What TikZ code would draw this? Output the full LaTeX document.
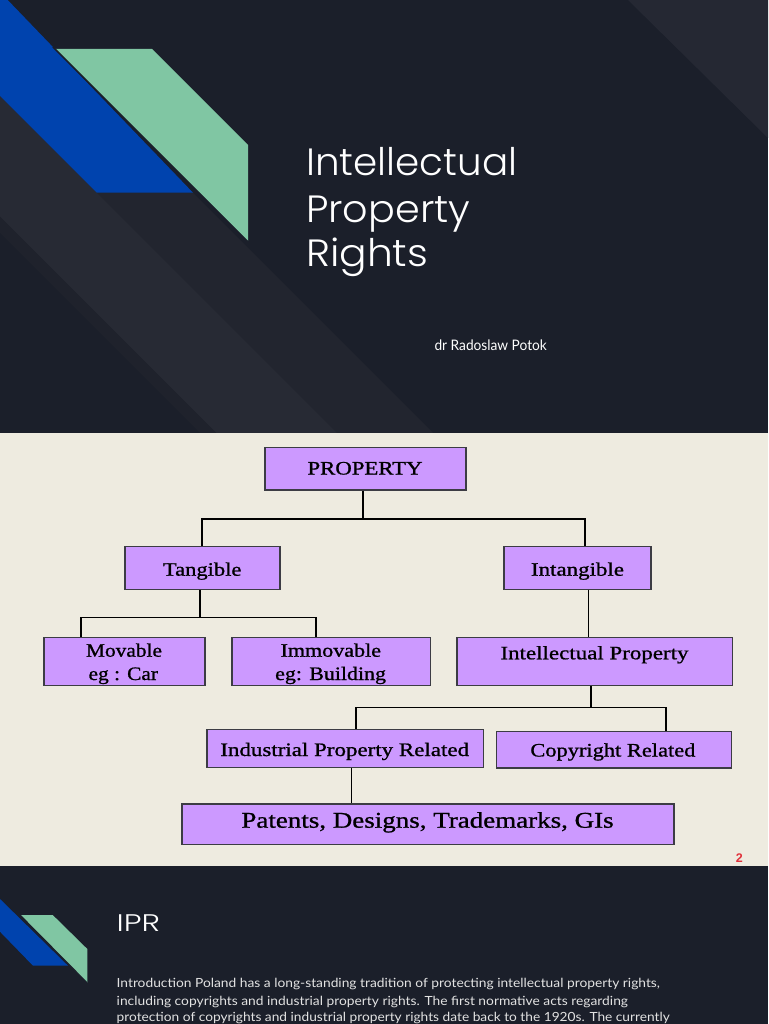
\documentclass[tikz,border=0pt]{standalone}
\usepackage{fontspec}
\usepackage{graphicx}
\setmainfont{Liberation Serif}
\newfontfamily\boxfont{Liberation Serif}[UprightFeatures={FakeBold=0.9}]
\IfFontExistsTF{Poppins Light}{\newfontfamily\titlefont{Poppins Light}}{\newfontfamily\titlefont{Poppins}}
\newfontfamily\latofont{Lato}
\newfontfamily\numfont{Liberation Sans}
\newcommand\fw[2]{\resizebox{#1}{\height}{#2}}
\definecolor{bgdark}{HTML}{1B1F2A}
\definecolor{bandA}{HTML}{22252F}
\definecolor{bandB}{HTML}{272A34}
\definecolor{bandC}{HTML}{1F222C}
\definecolor{bandT}{HTML}{252833}
\definecolor{slblue}{HTML}{0043AE}
\definecolor{slgreen}{HTML}{80C6A3}
\definecolor{midbg}{HTML}{EEEBE0}
\definecolor{boxfill}{HTML}{CC99FF}
\definecolor{boxline}{HTML}{3C3C44}
\definecolor{pagered}{HTML}{E0303A}
\definecolor{paratext}{HTML}{E2E2E2}
\begin{document}
\begin{tikzpicture}[x=1pt,y=-1pt,
  box/.style={draw=boxline, fill=boxfill, line width=1.3pt, inner sep=0pt},
  conn/.style={draw=black, line width=1.6pt},
  txt/.style={inner sep=0pt, anchor=base, text=black, font=\boxfont\fontsize{19}{22}\selectfont},
  wtxt/.style={inner sep=0pt, anchor=base west, text=white}]
\useasboundingbox (0,0) rectangle (768,1024);
% ---------- top slide ----------
\fill[bgdark] (0,0) rectangle (768,433);
\begin{scope}
\clip (0,0) rectangle (768,433);
\fill[bandA] (0,0) -- (433,433) -- (337,433) -- (0,96) -- cycle;
\fill[bandB] (0,96) -- (337,433) -- (216,433) -- (0,217) -- cycle;
\fill[bandC] (0,217) -- (216,433) -- (200,433) -- (0,233) -- cycle;
\fill[bandT] (628,0) -- (768,0) -- (768,138) -- cycle;
\fill[slblue] (0,-8) -- (193,192.7) -- (96.7,192.7) -- (0,96) -- cycle;
\fill[slgreen] (55,49) -- (152,49) -- (248,145) -- (248,241) -- cycle;
\draw[bgdark, line width=1.5pt] (53,47) -- (248,242);
\end{scope}
\node[wtxt, font=\titlefont\fontsize{38}{44}\selectfont] (t1) at (306,176) {\fw{211pt}{Intellectual}};
\node[wtxt, font=\titlefont\fontsize{38}{44}\selectfont] (t2) at (306,222.7) {\fw{164pt}{Property}};
\node[wtxt, font=\titlefont\fontsize{38}{44}\selectfont] (t3) at (306,266.7) {\fw{122pt}{Rights}};
\node[wtxt, font=\latofont\fontsize{14.5}{17}\selectfont] (auth) at (434.3,350) {\fw{112.4pt}{dr Radoslaw Potok}};
% ---------- middle slide ----------
\fill[midbg] (0,433) rectangle (768,865.5);
\node[box, minimum width=201pt, minimum height=42.7pt] (prop) at (365.5,468.65) {};
\node[box, minimum width=155pt, minimum height=42.6pt] (tang) at (202.5,568) {};
\node[box, minimum width=147pt, minimum height=42.6pt] (intang) at (577.5,568) {};
\node[box, minimum width=161pt, minimum height=48.4pt] (mov) at (124.5,661.5) {};
\node[box, minimum width=198.5pt, minimum height=48.4pt] (imm) at (331.25,661.5) {};
\node[box, minimum width=275.6pt, minimum height=48.4pt] (ip) at (594.8,661.5) {};
\node[box, minimum width=276.4pt, minimum height=38pt] (ind) at (345.2,748.3) {};
\node[box, minimum width=235pt, minimum height=36.3pt] (copy) at (614.1,749.85) {};
\node[box, minimum width=492pt, minimum height=40.3pt] (pat) at (428,824.15) {};
% connectors
\coordinate (pb) at ([xshift=-2.5pt]prop.south);
\draw[conn] (pb) -- ++(0,28.3) coordinate (pbar);
\draw[conn] ([xshift=-0.5pt]tang.north) |- (pbar) -| ([xshift=7.5pt]intang.north);
\coordinate (tb) at ([xshift=-2.5pt]tang.south);
\draw[conn] (tb) -- ++(0,27.4) coordinate (tbar);
\draw[conn] ([xshift=-43.5pt]mov.north) |- (tbar) -| ([xshift=-15.25pt]imm.north);
\draw[conn] ([xshift=11.1pt]intang.south) -- ([xshift=11.1pt]intang.south |- ip.north);
\coordinate (ib) at ([xshift=-3.8pt]ip.south);
\draw[conn] (ib) -- ++(0,21.3) coordinate (ibar);
\draw[conn] ([xshift=10.8pt]ind.north) |- (ibar) -| ([xshift=51.9pt]copy.north);
\draw[conn] ([xshift=6.4pt]ind.south) -- ([xshift=6.4pt]ind.south |- pat.north);
% box texts
\node[txt] (lprop) at (365,474.5) {\fw{115pt}{PROPERTY}};
\node[txt] (ltang) at (202.2,575.7) {\fw{78.4pt}{Tangible}};
\node[txt] (lintang) at (577.5,575.7) {\fw{93pt}{Intangible}};
\node[txt] (lmov1) at (124,656.7) {\fw{76pt}{Movable}};
\node[txt] (lmov2) at (123.3,680) {\fw{69.4pt}{eg : Car}};
\node[txt] (limm1) at (330.8,656.7) {\fw{100.4pt}{Immovable}};
\node[txt] (limm2) at (330.6,680) {\fw{110.8pt}{eg: Building}};
\node[txt] (lip) at (594.5,659.3) {\fw{188pt}{Intellectual Property}};
\node[txt] (lind) at (344.7,756) {\fw{248.7pt}{Industrial Property Related}};
\node[txt] (lcopy) at (612.9,756.5) {\fw{165pt}{Copyright Related}};
\node[txt, font=\boxfont\fontsize{22.5}{26}\selectfont] (lpat) at (427.5,827.7) {\fw{372.2pt}{Patents, Designs, Trademarks, GIs}};
\node[inner sep=0pt, anchor=base, text=pagered, font=\numfont\bfseries\fontsize{12.5}{14}\selectfont] (pnum) at (739.3,862.3) {2};
% ---------- bottom slide ----------
\fill[bgdark] (0,865.5) rectangle (768,1024);
\fill[slblue] (0,899) -- (68,965.7) -- (33,965.7) -- (0,931.7) -- cycle;
\fill[slgreen] (20,915) -- (52.7,915) -- (87.3,949) -- (87.3,983) -- cycle;
\draw[bgdark, line width=1.2pt] (19,914) -- (87.3,983);
\node[wtxt, font=\titlefont\fontsize{24}{28}\selectfont] (ipr) at (116.5,931.7) {\fw{43.5pt}{IPR}};
\begin{scope}[every node/.style={inner sep=0pt, anchor=base west, text=paratext, font=\latofont\fontsize{12.6}{15}\selectfont}]
\node (p1) at (116.5,987.3) {\fw{543.2pt}{Introduction Poland has a long-standing tradition of protecting intellectual property rights,}};
\node (p2) at (116.5,1005) {\fw{511.3pt}{including copyrights and industrial property rights. The first normative acts regarding}};
\node (p3) at (116.5,1021.7) {\fw{553pt}{protection of copyrights and industrial property rights date back to the 1920s. The currently}};
\end{scope}
\end{tikzpicture}
\end{document}
